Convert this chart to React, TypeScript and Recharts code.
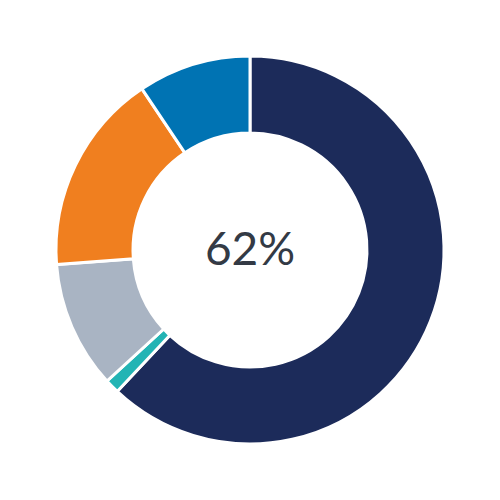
import React from 'react';
import { PieChart, Pie, Cell } from 'recharts';

const segments = ['Navy', 'Teal', 'Gray', 'Orange', 'Blue'];
const values = [62, 1.2, 10.6, 16.8, 9.4];
const COLORS = ['#1c2b5a', '#23b4b4', '#a9b4c3', '#f07f1f', '#0073b3'];

const data = segments.map((name, i) => ({ name, value: values[i] }));

export default function App() {
  return (
    <div style={{ position: 'absolute', left: 0, top: 0, width: 500, height: 500, background: '#fff' }}>
      <PieChart width={500} height={500} margin={{ top: 0, right: 0, bottom: 0, left: 0 }}>
        <Pie
          data={data}
          dataKey="value"
          cx={250}
          cy={250}
          innerRadius={117}
          outerRadius={194}
          startAngle={90}
          endAngle={-270}
          stroke="#ffffff"
          strokeWidth={3}
          isAnimationActive={false}
        >
          {data.map((_, i) => (
            <Cell key={`cell-${i}`} fill={COLORS[i]} />
          ))}
        </Pie>
        <text
          x={250}
          y={247}
          textAnchor="middle"
          dominantBaseline="central"
          style={{ fontFamily: 'Lato', fontWeight: 400, fontSize: 46, fill: '#333a45' }}
        >
          62%
        </text>
      </PieChart>
    </div>
  );
}
